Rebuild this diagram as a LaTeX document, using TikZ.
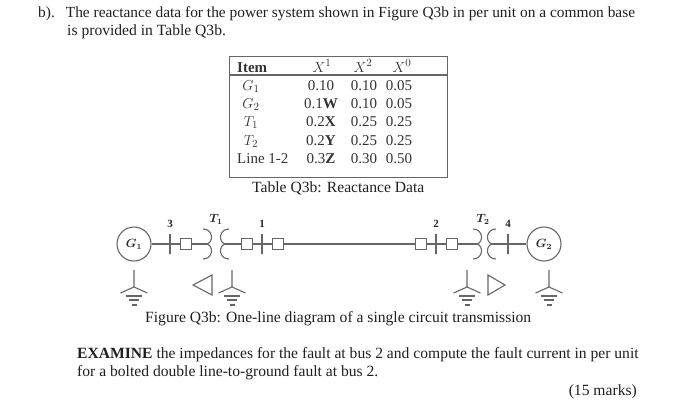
\documentclass[tikz,border=0pt]{standalone}
\usepackage{amsmath}
\usepackage{fontspec}
\setmainfont{Liberation Serif}
\usetikzlibrary{
  positioning,
  calc,
}
\newcommand{\busbar}  [3]{\node[busbar] (#1) at (#2,244) {}; \node[buslabel] (#1 label) at (#2,#3) {\textbf{\oneline}};}
\newcommand{\coil}    [3]{
  \coordinate (#1) at (#2,244);
  \draw[wire,shift={(#2,244)},xscale=#3] (-4,-15) .. controls (6,-15) and (7,-2) .. (0,0)
                                         .. controls (7,2) and (6,15) .. (-4,15);
}
\newcommand{\grnd}    [2]{
  \coordinate (#1 top) at (#2,270);
  \coordinate (#1 mid) at (#2,287);
  \coordinate (#1 l) at ($(#1 mid)+(-13.5,6)$);
  \coordinate (#1 r) at ($(#1 mid)+(13.5,6)$);
  \draw[wire] (#1 top) -- (#1 mid) (#1 l) -- (#1 mid) -- (#1 r);
  \draw[wire] ($(#1 mid)+(-8,9)$) -- +(16,0);
  \draw[wire] ($(#1 mid)+(-5,13)$) -- +(10,0);
  \draw[wire] ($(#1 mid)+(-2.5,18)$) -- +(5,0);
}
\tikzset{
  wire/.style={
    draw=black!60,
    line width=1.1pt
  },
  body/.style={
    anchor=base west,
    inner sep=0pt,
    text=black!88,
    font=\fontsize{15.6}{18}\selectfont
  },
  cell/.style={
    anchor=base,
    inner sep=0pt,
    text=black!80,
    font=\fontsize{15}{17}\selectfont
  },
  gen/.style={
    circle,
    wire,
    fill=white,
    minimum size=34pt,
    inner sep=0pt,
    text=black!85,
    font=\fontsize{11.5}{13}\selectfont\boldmath
  },
  relay/.style={
    rectangle,
    wire,
    fill=white,
    minimum size=11pt,
    inner sep=0pt
  },
  busbar/.style={
    rectangle,
    wire,
    minimum height=20pt,
    minimum width=0pt,
    inner sep=0pt
  },
  buslabel/.style={
    inner sep=0pt,
    text=black!85,
    font=\fontsize{11}{13}\selectfont
  }
}
\begin{document}
\begin{tikzpicture}[x=1pt,y=-1pt]
\useasboundingbox (0,0) rectangle (700,408);
% question text
\node[body,font=\fontsize{15.4}{18}\selectfont] (line a) at (38,17) {b).\hspace{11pt}The reactance data for the power system shown in Figure Q3b in per unit on a common base};
\node[body] (line b) at (67,35) {is provided in Table Q3b.};
% table
\node[wire,rectangle,minimum width=218pt,minimum height=121pt,inner sep=0pt,anchor=north west] (tbl) at (229,56) {};
\coordinate (tbl l) at (229,75);
\coordinate (tbl r) at (447,75);
\draw[wire] (tbl l) -- (tbl r);
\node[cell,anchor=base west] (head0) at (237,72) {\textbf{Item}};
\node[cell] (head1) at (322,72) {$X^1$};
\node[cell] (head2) at (363,72) {$X^2$};
\node[cell] (head3) at (402,72) {$X^0$};
\foreach \i/\yy/\itm/\xa/\xb/\xc in {
  1/90/$G_1$/0.10/0.10/0.05,
  2/108/$G_2$/0.1\textbf{W}/0.10/0.05,
  3/126/$T_1$/0.2\textbf{X}/0.25/0.25,
  4/145/$T_2$/0.2\textbf{Y}/0.25/0.25}
{
  \node[cell] (item\i) at (251,\yy) {\itm};
  \node[cell] (xa\i) at (321,\yy) {\xa};
  \node[cell] (xb\i) at (364,\yy) {\xb};
  \node[cell] (xc\i) at (399,\yy) {\xc};
}
\node[cell,anchor=base west] (item5) at (237,163) {Line 1-2};
\node[cell] (xa5) at (321,163) {0.3\textbf{Z}};
\node[cell] (xb5) at (364,163) {0.30};
\node[cell] (xc5) at (399,163) {0.50};
\node[body] (tbl cap) at (252,192) {Table Q3b: Reactance Data};
% one-line diagram
\node[gen] (G1) at (134,244) {$G_1$};
\node[gen] (G2) at (544,244) {$G_2$};
\def\oneline{3}\busbar{bus3}{170}{224}
\def\oneline{1}\busbar{bus1}{262}{224}
\def\oneline{2}\busbar{bus2}{436}{224}
\def\oneline{4}\busbar{bus4}{508}{224}
\node[relay] (box a) at (186,244) {};
\node[relay] (box b) at (247,244) {};
\node[relay] (box c) at (278,244) {};
\node[relay] (box d) at (421,244) {};
\node[relay] (box e) at (452,244) {};
\coil{t1 l}{207}{1}
\coil{t1 r}{225}{-1}
\coil{t2 l}{477}{1}
\coil{t2 r}{492}{-1}
\node[buslabel,font=\fontsize{12}{14}\selectfont\boldmath] (T1) at (216,219) {$T_1$};
\node[buslabel,font=\fontsize{12}{14}\selectfont\boldmath] (T2) at (483,219) {$T_2$};
\draw[wire] (G1) -- (bus3) -- (box a) -- (t1 l);
\draw[wire] (t1 r) -- (box b) -- (bus1) -- (box c) -- (box d) -- (bus2) -- (box e) -- (t2 l);
\draw[wire] (t2 r) -- (bus4) -- (G2);
\grnd{g1}{134}
\grnd{g2}{232}
\grnd{g3}{467}
\grnd{g4}{549}
\draw[wire] (212,275) -- (193,285) -- (212,295) -- cycle;
\draw[wire] (488,275) -- (505,285) -- (488,295) -- cycle;
\node[body] (fig cap) at (145,322) {Figure Q3b: One-line diagram of a single circuit transmission};
% fault text
\node[body] (line c) at (77,358) {\textbf{EXAMINE} the impedances for the fault at bus 2 and compute the fault current in per unit};
\node[body] (line d) at (77,376) {for a bolted double line-to-ground fault at bus 2.};
\node[body,anchor=base east] (marks) at (637,395) {(15 marks)};
\end{tikzpicture}
\end{document}
